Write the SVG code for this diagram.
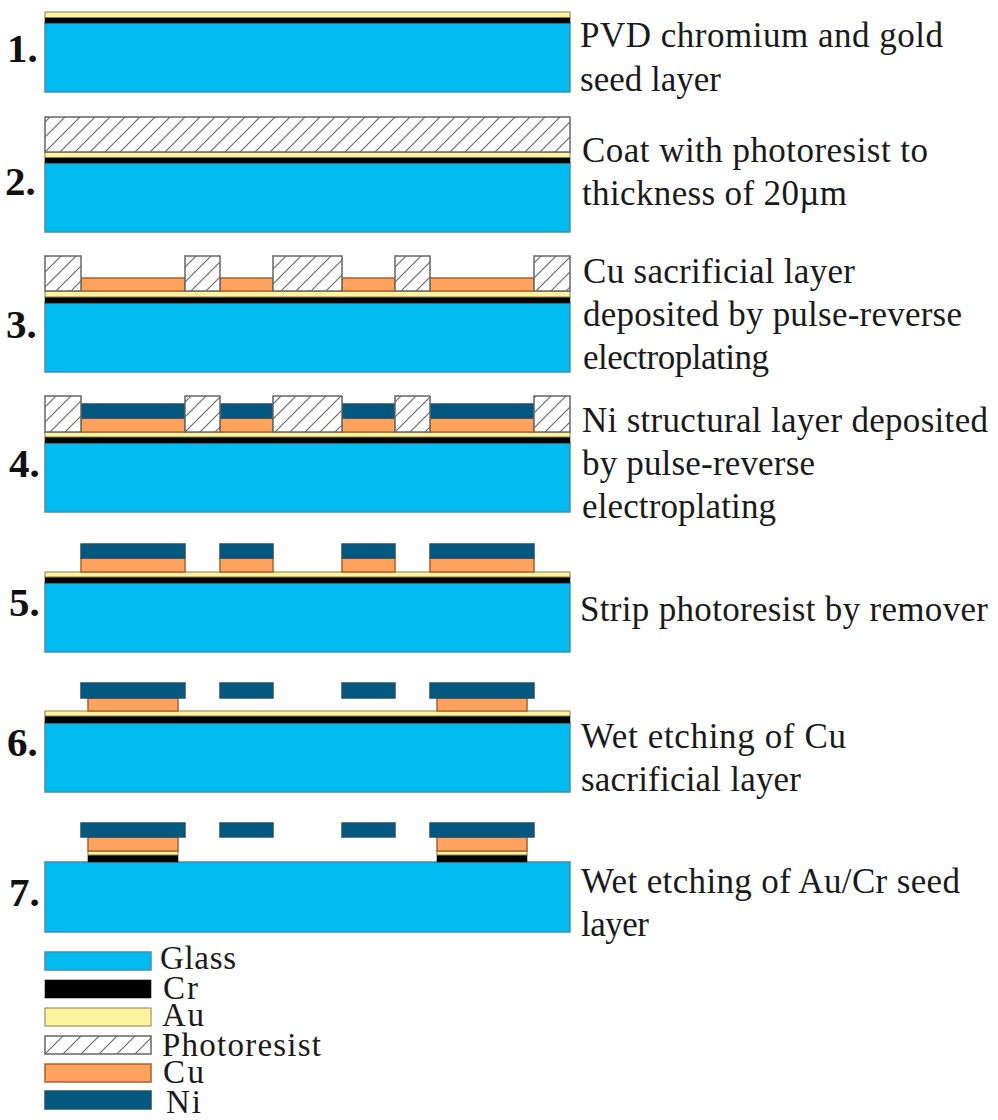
<svg xmlns="http://www.w3.org/2000/svg" width="998" height="1120" viewBox="0 0 998 1120">
<style>
text{font-family:"Liberation Serif","Times New Roman",serif;fill:#1a1a1a}
.n{font-size:41px;font-weight:bold;fill:#111}
.t{font-size:35px}
.l{font-size:33px}
.g{fill:#00bbf0;stroke:#3f8fb4;stroke-width:1.5}
.c{fill:#000;stroke:#111;stroke-width:.6}
.a{fill:#fff3a0;stroke:#85804f;stroke-width:1}
.p{fill:url(#h);stroke:#666;stroke-width:1.5}
.u{fill:#ffa25e;stroke:#a9602c;stroke-width:1.5}
.i{fill:#02587f;stroke:#1f4f6c;stroke-width:1.5}
</style>
<defs>
<pattern id="h" patternUnits="userSpaceOnUse" width="15" height="15" patternTransform="translate(45 2)">
<rect width="15" height="15" fill="#fff"/>
<path d="M-2 17L17 -2M-2 2L2 -2M13 17L17 13" stroke="#666" stroke-width="1.1" fill="none"/>
</pattern>
<pattern id="h2" patternUnits="userSpaceOnUse" width="18" height="18" patternTransform="translate(45 1036)">
<rect width="18" height="18" fill="#fff"/>
<path d="M-2 20L20 -2M-2 2L2 -2M16 20L20 16" stroke="#666" stroke-width="1.1" fill="none"/>
</pattern>
</defs>
<g id="step1">
<rect class="g" x="45" y="23" width="525" height="69"/>
<rect class="c" x="45" y="17.5" width="525" height="5.5"/>
<rect class="a" x="45" y="12" width="525" height="5.5"/>
<text class="n" x="7" y="62">1.</text>
<text class="t" x="580" y="47" textLength="363">PVD chromium and gold</text>
<text class="t" x="580" y="91" textLength="141">seed layer</text>
</g>
<g id="step2">
<rect class="g" x="45" y="163" width="525" height="69"/>
<rect class="c" x="45" y="157.5" width="525" height="5.5"/>
<rect class="a" x="45" y="152" width="525" height="5.5"/>
<rect class="p" x="45" y="117" width="525" height="35"/>
<text class="n" x="5" y="195">2.</text>
<text class="t" x="582" y="162" textLength="346">Coat with photoresist to</text>
<text class="t" x="582" y="205" textLength="265">thickness of 20µm</text>
</g>
<g id="step3">
<rect class="g" x="45" y="303" width="525" height="69"/>
<rect class="c" x="45" y="297" width="525" height="6"/>
<rect class="a" x="45" y="291" width="525" height="6"/>
<rect class="u" x="81" y="278" width="104" height="13"/>
<rect class="u" x="220" y="278" width="53" height="13"/>
<rect class="u" x="342" y="278" width="53" height="13"/>
<rect class="u" x="430" y="278" width="104" height="13"/>
<rect class="p" x="45" y="256" width="36" height="35"/>
<rect class="p" x="185" y="256" width="35" height="35"/>
<rect class="p" x="273" y="256" width="69" height="35"/>
<rect class="p" x="395" y="256" width="35" height="35"/>
<rect class="p" x="534" y="256" width="36" height="35"/>
<text class="n" x="6" y="338">3.</text>
<text class="t" x="583" y="283" textLength="272">Cu sacrificial layer</text>
<text class="t" x="583" y="326" textLength="379">deposited by pulse-reverse</text>
<text class="t" x="583" y="369" textLength="186">electroplating</text>
</g>
<g id="step4">
<rect class="g" x="45" y="443" width="525" height="69"/>
<rect class="c" x="45" y="437" width="525" height="6"/>
<rect class="a" x="45" y="432" width="525" height="5"/>
<rect class="u" x="81" y="418" width="104" height="14"/>
<rect class="u" x="220" y="418" width="53" height="14"/>
<rect class="u" x="342" y="418" width="53" height="14"/>
<rect class="u" x="430" y="418" width="104" height="14"/>
<rect class="i" x="81" y="404" width="104" height="14"/>
<rect class="i" x="220" y="404" width="53" height="14"/>
<rect class="i" x="342" y="404" width="53" height="14"/>
<rect class="i" x="430" y="404" width="104" height="14"/>
<rect class="p" x="45" y="396" width="36" height="36"/>
<rect class="p" x="185" y="396" width="35" height="36"/>
<rect class="p" x="273" y="396" width="69" height="36"/>
<rect class="p" x="395" y="396" width="35" height="36"/>
<rect class="p" x="534" y="396" width="36" height="36"/>
<text class="n" x="9" y="477">4.</text>
<text class="t" x="582" y="432" textLength="406">Ni structural layer deposited</text>
<text class="t" x="582" y="475" textLength="233">by pulse-reverse</text>
<text class="t" x="582" y="518" textLength="194">electroplating</text>
</g>
<g id="step5">
<rect class="g" x="45" y="583" width="525" height="69"/>
<rect class="c" x="45" y="577" width="525" height="6"/>
<rect class="a" x="45" y="572" width="525" height="5"/>
<rect class="u" x="81" y="558" width="104" height="14"/>
<rect class="u" x="220" y="558" width="53" height="14"/>
<rect class="u" x="342" y="558" width="53" height="14"/>
<rect class="u" x="430" y="558" width="104" height="14"/>
<rect class="i" x="81" y="544" width="104" height="14"/>
<rect class="i" x="220" y="544" width="53" height="14"/>
<rect class="i" x="342" y="544" width="53" height="14"/>
<rect class="i" x="430" y="544" width="104" height="14"/>
<text class="n" x="9" y="616">5.</text>
<text class="t" x="580" y="621" textLength="408">Strip photoresist by remover</text>
</g>
<g id="step6">
<rect class="g" x="45" y="723" width="525" height="69"/>
<rect class="c" x="45" y="716" width="525" height="7"/>
<rect class="a" x="45" y="711" width="525" height="5"/>
<rect class="u" x="88" y="698" width="90" height="13"/>
<rect class="u" x="437" y="698" width="90" height="13"/>
<rect class="i" x="81" y="683" width="104" height="15"/>
<rect class="i" x="220" y="683" width="53" height="15"/>
<rect class="i" x="342" y="683" width="53" height="15"/>
<rect class="i" x="430" y="683" width="104" height="15"/>
<text class="n" x="7" y="756">6.</text>
<text class="t" x="581" y="748" textLength="265">Wet etching of Cu</text>
<text class="t" x="581" y="791" textLength="220">sacrificial layer</text>
</g>
<g id="step7">
<rect class="g" x="45" y="862" width="525" height="70"/>
<rect class="c" x="88" y="855" width="90" height="7"/>
<rect class="c" x="437" y="855" width="90" height="7"/>
<rect class="a" x="88" y="851" width="90" height="4"/>
<rect class="a" x="437" y="851" width="90" height="4"/>
<rect class="u" x="88" y="837" width="90" height="14"/>
<rect class="u" x="437" y="837" width="90" height="14"/>
<rect class="i" x="81" y="823" width="104" height="14"/>
<rect class="i" x="220" y="823" width="53" height="14"/>
<rect class="i" x="342" y="823" width="53" height="14"/>
<rect class="i" x="430" y="823" width="104" height="14"/>
<text class="n" x="9" y="906">7.</text>
<text class="t" x="581" y="893" textLength="379">Wet etching of Au/Cr seed</text>
<text class="t" x="581" y="936" textLength="68">layer</text>
</g>
<g id="legend">
<rect class="g" x="45" y="952" width="106" height="18"/>
<rect class="c" x="45" y="980" width="106" height="18"/>
<rect class="a" x="45" y="1008" width="106" height="18"/>
<rect x="45" y="1036" width="106" height="18" fill="url(#h2)" stroke="#666" stroke-width="1.5"/>
<rect class="u" x="45" y="1064" width="106" height="18"/>
<rect class="i" x="45" y="1091" width="106" height="18"/>
<text class="l" x="160" y="969" textLength="76">Glass</text>
<text class="l" x="163" y="999" textLength="35">Cr</text>
<text class="l" x="162" y="1026" textLength="42">Au</text>
<text class="l" x="162" y="1056" textLength="159">Photoresist</text>
<text class="l" x="163" y="1083" textLength="41">Cu</text>
<text class="l" x="166" y="1113" textLength="35">Ni</text>
</g>
</svg>
